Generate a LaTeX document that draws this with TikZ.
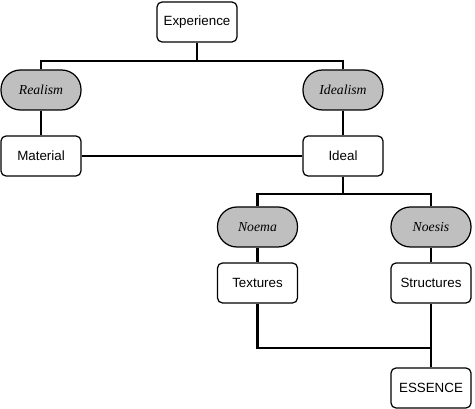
\documentclass[tikz,border=0pt]{standalone}
\usepackage{fontspec}
\setmainfont{Liberation Sans}
\newfontfamily\serifit{Liberation Serif}[ItalicFont=* Italic]
\usepackage{tikz}

\begin{document}
\begin{tikzpicture}[
  box/.style={draw, line width=0.7pt, rounded corners=0.1cm, fill=white,
    minimum width=1.6cm, minimum height=0.8cm, inner sep=0pt,
    font=\fontsize{7.6}{9}\selectfont},
  pill/.style={draw, line width=0.7pt, rounded corners=0.39cm, fill=black!25,
    minimum width=1.6cm, minimum height=0.8cm, inner sep=0pt,
    font=\fontsize{7.8}{9}\selectfont\serifit\itshape},
  link/.style={line width=1.4pt}]
\useasboundingbox (0,0) rectangle (9.5,8.18);
% top level
\node[box] (exp) at (3.94,7.74) {Experience};
\node[pill] (real) at (0.82,6.38) {Realism};
\node[pill] (idlsm) at (6.86,6.38) {Idealism};
\node[box] (mat) at (0.82,5.06) {Material};
\node[box] (ideal) at (6.86,5.06) {Ideal};
% lower branch
\node[pill] (noema) at (5.15,3.64) {Noema};
\node[pill] (noesis) at (8.62,3.64) {Noesis};
\node[box] (tex) at (5.15,2.52) {Textures};
\node[box] (str) at (8.62,2.52) {Structures};
\node[box] (ess) at (8.62,0.42) {ESSENCE};
\coordinate (j1) at (3.94,6.96);
\coordinate (j2) at (6.86,4.30);
\coordinate (j3) at (8.62,1.22);
\draw[link] (exp) -- (j1);
\draw[link] (real) |- (j1) -| (idlsm);
\draw[link] (real) -- (mat);
\draw[link] (idlsm) -- (ideal);
\draw[link] (mat) -- (ideal);
\draw[link] (ideal) -- (j2);
\draw[link] (noema) |- (j2) -| (noesis);
\draw[link] (noema) -- (tex);
\draw[link] (noesis) -- (str);
\draw[link] (tex) |- (j3);
\draw[link] (str) -- (ess);
\end{tikzpicture}
\end{document}
